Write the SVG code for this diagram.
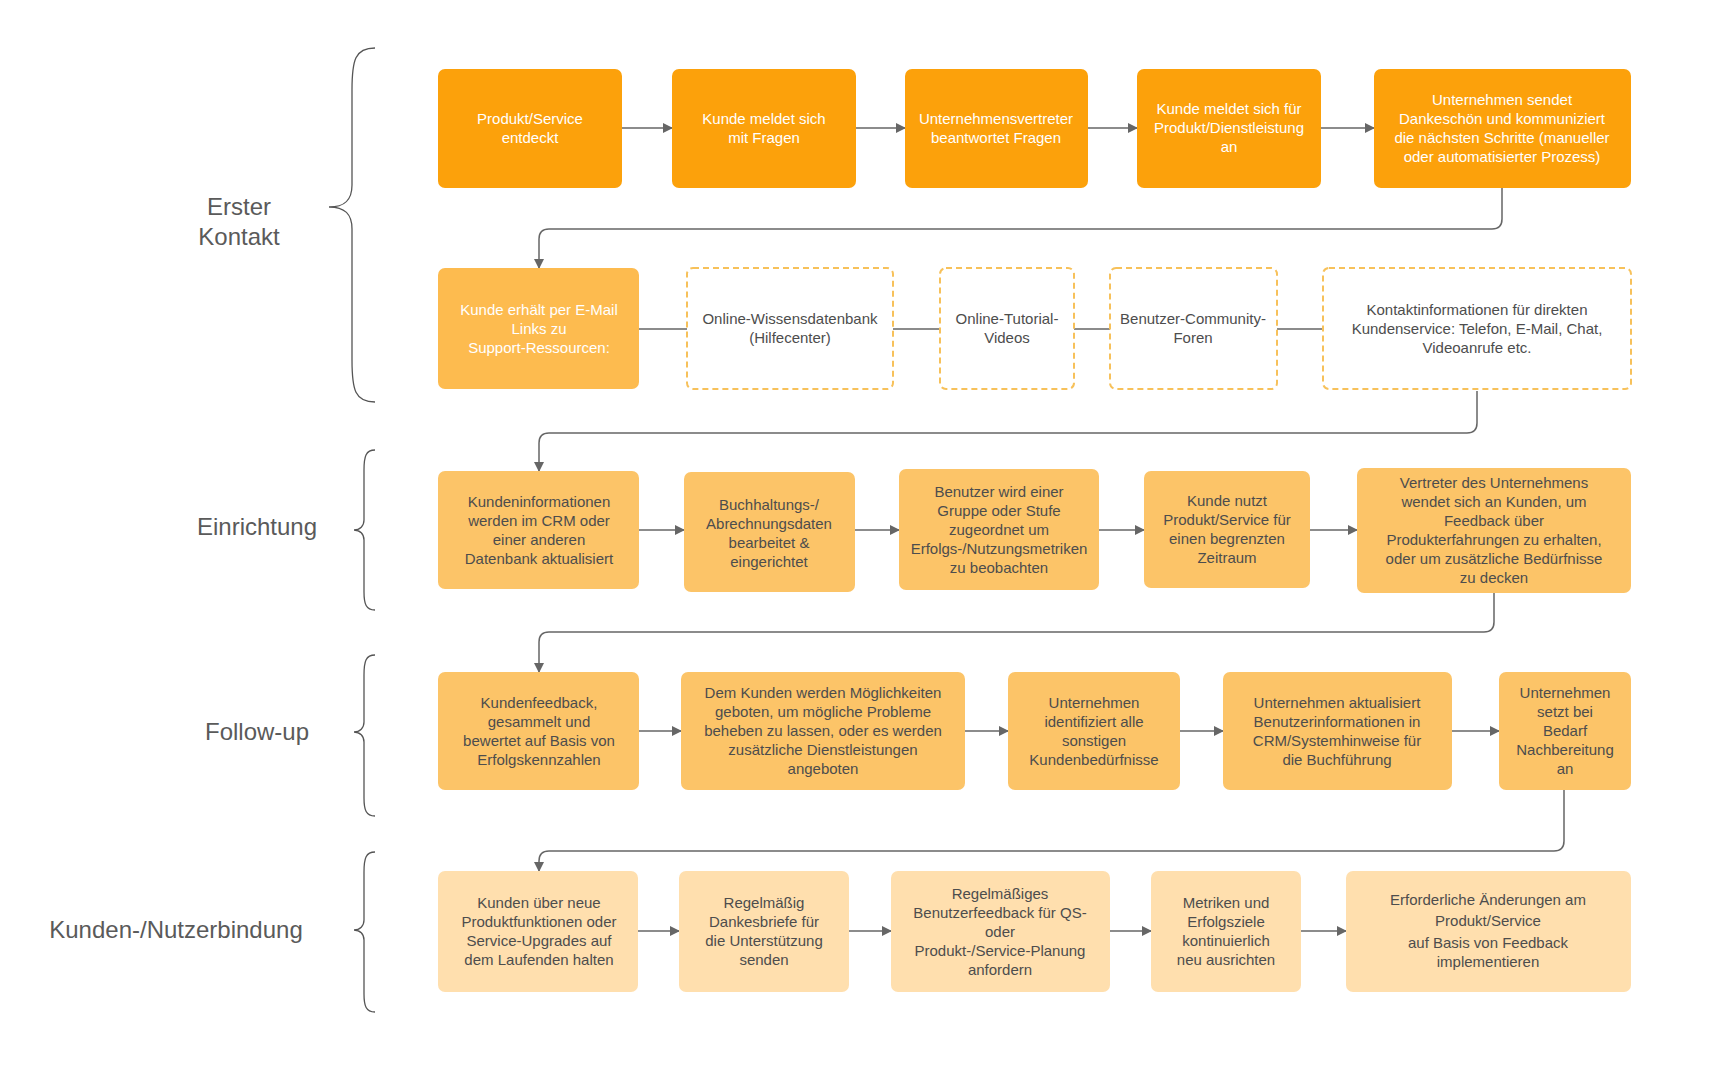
<svg xmlns="http://www.w3.org/2000/svg" width="1709" height="1067" viewBox="0 0 1709 1067">
<style>
text{font-family:"Liberation Sans",Arial,sans-serif;font-size:15px;text-anchor:middle;fill:#4d4d4d}
.w{fill:#ffffff}
.lab{font-size:24px;fill:#5a5a5a}
.r1{fill:#fca10b}
.r2{fill:#fdbb4f}
.r3{fill:#fcc468}
.r5{fill:#ffdfae}
.d{fill:#fff;stroke:#f7c15a;stroke-width:2;stroke-dasharray:6 4}
.c{fill:none;stroke:#666;stroke-width:1.5}
.b{fill:none;stroke:#555;stroke-width:1.3}
</style>
<defs><marker id="a" markerWidth="10" markerHeight="10" refX="9" refY="5" orient="auto" markerUnits="userSpaceOnUse"><path d="M0,0 L10,5 L0,10 z" fill="#666"/></marker></defs>
<g id="labels">
<text class="lab" x="239" y="215">Erster</text><text class="lab" x="239" y="245">Kontakt</text>
<text class="lab" x="257" y="535">Einrichtung</text>
<text class="lab" x="257" y="740">Follow-up</text>
<text class="lab" x="176" y="938">Kunden-/Nutzerbindung</text>
<path class="b" d="M375,48 C355,48 352,60 352,90 L352,185 C352,200 345,207 329,207 C345,207 352,214 352,229 L352,360 C352,390 355,402 375,402"/>
<path class="b" d="M375,450 C366,450 364,456 364,470 L364,520 C364,526 360,530 354,530 C360,530 364,534 364,540 L364,592 C364,604 366,610 375,610"/>
<path class="b" d="M375,655 C366,655 364,661 364,675 L364,722 C364,728 360,732 354,732 C360,732 364,736 364,742 L364,798 C364,810 366,816 375,816"/>
<path class="b" d="M375,852 C366,852 364,858 364,872 L364,920 C364,926 360,930 354,930 C360,930 364,934 364,940 L364,994 C364,1006 366,1012 375,1012"/>
</g>
<g id="connectors">
<path class="c" marker-end="url(#a)" d="M622,128 H672"/>
<path class="c" marker-end="url(#a)" d="M856,128 H905"/>
<path class="c" marker-end="url(#a)" d="M1088,128 H1137"/>
<path class="c" marker-end="url(#a)" d="M1321,128 H1374"/>
<path class="c" marker-end="url(#a)" d="M1502,188 V219 Q1502,229 1492,229 H549 Q539,229 539,239 V268"/>
<path class="c" d="M639,329 H687 M893,329 H940 M1074,329 H1110 M1277,329 H1323"/>
<path class="c" marker-end="url(#a)" d="M1477,391 V423 Q1477,433 1467,433 H549 Q539,433 539,443 V471"/>
<path class="c" marker-end="url(#a)" d="M639,530 H684"/>
<path class="c" marker-end="url(#a)" d="M855,530 H899"/>
<path class="c" marker-end="url(#a)" d="M1099,530 H1144"/>
<path class="c" marker-end="url(#a)" d="M1310,530 H1357"/>
<path class="c" marker-end="url(#a)" d="M1494,593 V622 Q1494,632 1484,632 H549 Q539,632 539,642 V672"/>
<path class="c" marker-end="url(#a)" d="M639,731 H681"/>
<path class="c" marker-end="url(#a)" d="M965,731 H1008"/>
<path class="c" marker-end="url(#a)" d="M1180,731 H1223"/>
<path class="c" marker-end="url(#a)" d="M1452,731 H1499"/>
<path class="c" marker-end="url(#a)" d="M1564,790 V841 Q1564,851 1554,851 H549 Q539,851 539,861 V871"/>
<path class="c" marker-end="url(#a)" d="M638,931 H679"/>
<path class="c" marker-end="url(#a)" d="M849,931 H891"/>
<path class="c" marker-end="url(#a)" d="M1110,931 H1151"/>
<path class="c" marker-end="url(#a)" d="M1301,931 H1346"/>
</g>
<g id="n1"><rect class="r1" x="438" y="69" width="184" height="119" rx="7"/><text class="w" x="530" y="124">Produkt/Service</text><text class="w" x="530" y="143">entdeckt</text></g>
<g id="n2"><rect class="r1" x="672" y="69" width="184" height="119" rx="7"/><text class="w" x="764" y="124">Kunde meldet sich</text><text class="w" x="764" y="143">mit Fragen</text></g>
<g id="n3"><rect class="r1" x="905" y="69" width="183" height="119" rx="7"/><text class="w" x="996" y="124">Unternehmensvertreter</text><text class="w" x="996" y="143">beantwortet Fragen</text></g>
<g id="n4"><rect class="r1" x="1137" y="69" width="184" height="119" rx="7"/><text class="w" x="1229" y="114">Kunde meldet sich für</text><text class="w" x="1229" y="133">Produkt/Dienstleistung</text><text class="w" x="1229" y="152">an</text></g>
<g id="n5"><rect class="r1" x="1374" y="69" width="257" height="119" rx="7"/><text class="w" x="1502" y="105">Unternehmen sendet</text><text class="w" x="1502" y="124">Dankeschön und kommuniziert</text><text class="w" x="1502" y="143">die nächsten Schritte (manueller</text><text class="w" x="1502" y="162">oder automatisierter Prozess)</text></g>
<g id="n6"><rect class="r2" x="438" y="268" width="201" height="121" rx="7"/><text class="w" x="539" y="315">Kunde erhält per E-Mail</text><text class="w" x="539" y="334">Links zu</text><text class="w" x="539" y="353">Support-Ressourcen:</text></g>
<g id="n7"><rect class="d" x="687" y="268" width="206" height="121" rx="6"/><text x="790" y="324">Online-Wissensdatenbank</text><text x="790" y="343">(Hilfecenter)</text></g>
<g id="n8"><rect class="d" x="940" y="268" width="134" height="121" rx="6"/><text x="1007" y="324">Online-Tutorial-</text><text x="1007" y="343">Videos</text></g>
<g id="n9"><rect class="d" x="1110" y="268" width="167" height="121" rx="6"/><text x="1193" y="324">Benutzer-Community-</text><text x="1193" y="343">Foren</text></g>
<g id="n10"><rect class="d" x="1323" y="268" width="308" height="121" rx="6"/><text x="1477" y="315">Kontaktinformationen für direkten</text><text x="1477" y="334">Kundenservice: Telefon, E-Mail, Chat,</text><text x="1477" y="353">Videoanrufe etc.</text></g>
<g id="n11"><rect class="r3" x="438" y="471" width="201" height="118" rx="7"/><text x="539" y="507">Kundeninformationen</text><text x="539" y="526">werden im CRM oder</text><text x="539" y="545">einer anderen</text><text x="539" y="564">Datenbank aktualisiert</text></g>
<g id="n12"><rect class="r3" x="684" y="472" width="171" height="120" rx="7"/><text x="769" y="510">Buchhaltungs-/</text><text x="769" y="529">Abrechnungsdaten</text><text x="769" y="548">bearbeitet &amp;</text><text x="769" y="567">eingerichtet</text></g>
<g id="n13"><rect class="r3" x="899" y="469" width="200" height="121" rx="7"/><text x="999" y="497">Benutzer wird einer</text><text x="999" y="516">Gruppe oder Stufe</text><text x="999" y="535">zugeordnet um</text><text x="999" y="554">Erfolgs-/Nutzungsmetriken</text><text x="999" y="573">zu beobachten</text></g>
<g id="n14"><rect class="r3" x="1144" y="471" width="166" height="117" rx="7"/><text x="1227" y="506">Kunde nutzt</text><text x="1227" y="525">Produkt/Service für</text><text x="1227" y="544">einen begrenzten</text><text x="1227" y="563">Zeitraum</text></g>
<g id="n15"><rect class="r3" x="1357" y="468" width="274" height="125" rx="7"/><text x="1494" y="488">Vertreter des Unternehmens</text><text x="1494" y="507">wendet sich an Kunden, um</text><text x="1494" y="526">Feedback über</text><text x="1494" y="545">Produkterfahrungen zu erhalten,</text><text x="1494" y="564">oder um zusätzliche Bedürfnisse</text><text x="1494" y="583">zu decken</text></g>
<g id="n16"><rect class="r3" x="438" y="672" width="201" height="118" rx="7"/><text x="539" y="708">Kundenfeedback,</text><text x="539" y="727">gesammelt und</text><text x="539" y="746">bewertet auf Basis von</text><text x="539" y="765">Erfolgskennzahlen</text></g>
<g id="n17"><rect class="r3" x="681" y="672" width="284" height="118" rx="7"/><text x="823" y="698">Dem Kunden werden Möglichkeiten</text><text x="823" y="717">geboten, um mögliche Probleme</text><text x="823" y="736">beheben zu lassen, oder es werden</text><text x="823" y="755">zusätzliche Dienstleistungen</text><text x="823" y="774">angeboten</text></g>
<g id="n18"><rect class="r3" x="1008" y="672" width="172" height="118" rx="7"/><text x="1094" y="708">Unternehmen</text><text x="1094" y="727">identifiziert alle</text><text x="1094" y="746">sonstigen</text><text x="1094" y="765">Kundenbedürfnisse</text></g>
<g id="n19"><rect class="r3" x="1223" y="672" width="229" height="118" rx="7"/><text x="1337" y="708">Unternehmen aktualisiert</text><text x="1337" y="727">Benutzerinformationen in</text><text x="1337" y="746">CRM/Systemhinweise für</text><text x="1337" y="765">die Buchführung</text></g>
<g id="n20"><rect class="r3" x="1499" y="672" width="132" height="118" rx="7"/><text x="1565" y="698">Unternehmen</text><text x="1565" y="717">setzt bei</text><text x="1565" y="736">Bedarf</text><text x="1565" y="755">Nachbereitung</text><text x="1565" y="774">an</text></g>
<g id="n21"><rect class="r5" x="438" y="871" width="200" height="121" rx="7"/><text x="539" y="908">Kunden über neue</text><text x="539" y="927">Produktfunktionen oder</text><text x="539" y="946">Service-Upgrades auf</text><text x="539" y="965">dem Laufenden halten</text></g>
<g id="n22"><rect class="r5" x="679" y="871" width="170" height="121" rx="7"/><text x="764" y="908">Regelmäßig</text><text x="764" y="927">Dankesbriefe für</text><text x="764" y="946">die Unterstützung</text><text x="764" y="965">senden</text></g>
<g id="n23"><rect class="r5" x="891" y="871" width="219" height="121" rx="7"/><text x="1000" y="899">Regelmäßiges</text><text x="1000" y="918">Benutzerfeedback für QS-</text><text x="1000" y="937">oder</text><text x="1000" y="956">Produkt-/Service-Planung</text><text x="1000" y="975">anfordern</text></g>
<g id="n24"><rect class="r5" x="1151" y="871" width="150" height="121" rx="7"/><text x="1226" y="908">Metriken und</text><text x="1226" y="927">Erfolgsziele</text><text x="1226" y="946">kontinuierlich</text><text x="1226" y="965">neu ausrichten</text></g>
<g id="n25"><rect class="r5" x="1346" y="871" width="285" height="121" rx="7"/><text x="1488" y="905">Erforderliche Änderungen am</text><text x="1488" y="926">Produkt/Service</text><text x="1488" y="948">auf Basis von Feedback</text><text x="1488" y="967">implementieren</text></g>
</svg>
